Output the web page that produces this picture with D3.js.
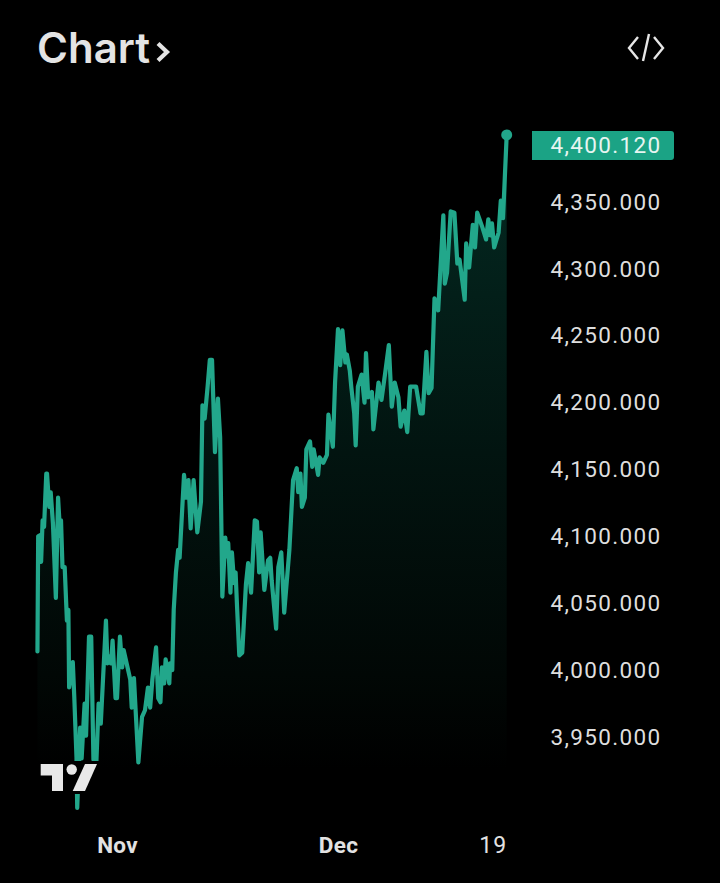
<!DOCTYPE html>
<html><head><meta charset="utf-8">
<style>html,body{margin:0;padding:0;background:#000}svg{display:block}</style>
<script src="https://cdn.jsdelivr.net/npm/d3@7/dist/d3.min.js"></script>
</head><body><div id="c"></div>
<script>
const title = "Chart";
const lastLabel = "4,400.120";
const yTicks = [3950,4000,4050,4100,4150,4200,4250,4300,4350];
const xTickDays = [0,30,51];
const xTickLabels = ["Nov","Dec","19"];
// sessions since 1 Nov
const days = [-10.8,-10.7,-10.4,-10.3,-10.1,-9.9,-9.6,-9.5,-9.2,-9.0,-8.7,-8.3,-8.0,-7.7,-7.6,-7.4,-7.1,-6.8,-6.6,-6.5,-6.2,-6.0,-5.8,-5.5,-5.4,-5.0,-4.8,-4.4,-4.2,-3.8,-3.5,-3.2,-2.8,-2.5,-2.2,-1.5,-1.3,-1.0,-0.8,-0.6,-0.2,0.0,0.4,0.7,0.9,1.8,2.0,2.3,2.9,3.4,3.8,4.2,4.5,4.8,5.3,5.6,5.9,6.1,6.4,6.6,7.1,7.2,7.5,7.7,8.0,8.3,8.5,9.1,9.4,9.7,10.0,10.4,10.9,11.4,11.6,11.9,12.3,12.6,12.9,13.3,13.7,14.0,14.3,14.7,14.9,15.1,15.4,15.6,15.9,16.1,16.3,16.6,17.0,17.5,17.8,18.2,18.7,19.0,19.3,19.5,20.0,20.5,20.8,21.0,21.6,21.9,22.3,22.7,23.4,23.9,24.4,24.6,24.9,25.1,25.5,25.7,26.2,26.5,26.7,27.3,27.5,28.0,28.5,28.7,29.3,29.6,30.0,30.3,30.6,31.0,31.2,31.6,31.8,32.2,32.4,32.7,33.2,33.6,33.8,34.1,34.6,34.8,35.5,35.9,36.4,36.9,37.3,37.7,38.2,38.5,39.0,39.4,39.8,40.6,41.2,41.5,42.0,42.3,42.7,43.1,43.6,44.3,44.5,44.8,45.3,45.8,46.2,46.5,47.2,47.4,47.8,48.3,48.6,48.9,49.6,50.1,50.4,50.7,50.9,51.2,51.8,52.1,52.4,52.9];
const prices = [4014,4100,4101,4081,4112,4107,4147,4147,4122,4133,4110,4054,4129,4100,4112,4077,4077,4037,4045,3987,3998,4006,3980,3935,3897,3957,3934,3975,3951,4025,4025,3933,3931,3975,3960,4037,4005,4010,4005,4022,3979,3979,4025,4002,4015,3993,3972,3994,3931,3965,3970,3987,3972,3993,4017,3979,3976,4002,3990,4008,3990,4005,4000,4045,4073,4090,4084,4146,4129,4142,4106,4142,4103,4126,4198,4188,4212,4232,4232,4163,4203,4174,4055,4099,4085,4095,4058,4088,4065,4073,4047,4011,4013,4064,4080,4058,4112,4111,4073,4103,4060,4082,4084,4067,4031,4077,4088,4043,4090,4142,4151,4133,4147,4122,4129,4165,4171,4152,4165,4146,4159,4155,4161,4191,4167,4215,4255,4228,4254,4230,4236,4224,4212,4192,4168,4212,4221,4200,4237,4204,4208,4180,4215,4202,4222,4243,4197,4215,4204,4182,4194,4178,4212,4212,4192,4192,4238,4207,4211,4278,4269,4340,4289,4297,4343,4342,4304,4307,4277,4319,4301,4333,4316,4342,4331,4322,4337,4325,4334,4316,4327,4351,4338,4400.12];

const W = 720, H = 883;
const svg = d3.select("#c").append("svg").attr("width",W).attr("height",H);
svg.append("rect").attr("width",W).attr("height",H).attr("fill","#000");

const x = d3.scaleLinear().domain([0,30]).range([117,338]);
const y = d3.scaleLinear().domain([3950,4350]).range([737,202]);
const pts = days.map((d,i)=>({d,v:prices[i]}));

const defs = svg.append("defs");
const g = defs.append("linearGradient").attr("id","fade")
  .attr("gradientUnits","userSpaceOnUse").attr("x1",0).attr("x2",0).attr("y1",136).attr("y2",770);
g.append("stop").attr("offset",0).attr("stop-color","#042a22");
g.append("stop").attr("offset",0.5).attr("stop-color","#021410");
g.append("stop").attr("offset",0.85).attr("stop-color","#010705");
g.append("stop").attr("offset",1).attr("stop-color","#000");

const area = d3.area().x(p=>x(p.d)).y0(790).y1(p=>y(p.v));
const line = d3.line().x(p=>x(p.d)).y(p=>y(p.v));
svg.append("path").datum(pts).attr("d",area).attr("fill","url(#fade)");
svg.append("path").datum(pts).attr("d",line).attr("fill","none").attr("stroke","#22a78b").attr("stroke-width",4.2).attr("stroke-linejoin","round").attr("stroke-linecap","round");
const last = pts[pts.length-1];
svg.append("circle").attr("cx",x(last.d)).attr("cy",y(last.v)).attr("r",5.5).attr("fill","#22a78b");

// y axis
const font = "Roboto, 'Open Sans', sans-serif";
const ya = svg.append("g").attr("transform","translate(550.5,0)")
  .call(d3.axisRight(y).tickValues(yTicks).tickFormat(d3.format(",.3f")).tickSize(0).tickPadding(0));
ya.select(".domain").remove();
ya.selectAll("text").attr("fill","#dedede").attr("font-family",font).attr("font-size",22.5).attr("font-weight",400).attr("letter-spacing",1.35).attr("dy","0.32em");

// last price tag
svg.append("path").attr("d","M532,131H671a3,3 0 0 1 3,3V157a3,3 0 0 1 -3,3H532Z").attr("fill","#1ba385");
svg.append("text").attr("x",550.5).attr("y",152.5).attr("fill","#e6f5f1").attr("font-family",font).attr("font-size",22.5).attr("font-weight",400).attr("letter-spacing",1.35).text(lastLabel);

// logo (masks the chart behind)
svg.append("rect").attr("x",38).attr("y",761).attr("width",62).attr("height",33).attr("fill","#000");
const logo = svg.append("g").attr("fill","#e8e8e8");
logo.append("path").attr("d","M40.7,764H63V791H52V775.5H40.7Z");
logo.append("circle").attr("cx",71.7).attr("cy",769.5).attr("r",5.2);
logo.append("path").attr("d","M85,764H97L85,791H72.7Z");

// x axis
const xa = svg.append("g").attr("transform","translate(0,845)")
  .call(d3.axisBottom(x).tickValues(xTickDays).tickFormat((d,i)=>xTickLabels[i]).tickSize(0).tickPadding(0));
xa.select(".domain").remove();
xa.selectAll("text").attr("fill","#e2e2e2").attr("font-family",font).attr("font-size",(d,i)=>i<2?22.5:23)
  .attr("dy","0.36em").attr("y",0)
  .attr("font-weight",(d,i)=>i<2?700:400).attr("letter-spacing",(d,i)=>i<2?0.3:1);

// header
svg.append("text").attr("x",37).attr("y",63).attr("fill","#e4e4e4").attr("font-family","Inter, Roboto, sans-serif").attr("font-size",42).attr("font-weight",600).text(title);
svg.append("path").attr("d","M158,43.5L167,52L158,60.5").attr("fill","none").attr("stroke","#e4e4e4").attr("stroke-width",4.2);
const ic = svg.append("g").attr("fill","none").attr("stroke","#e6e6e6").attr("stroke-width",2.4);
ic.append("path").attr("d","M638,37L629,48L638,59");
ic.append("path").attr("d","M649,34L643,61");
ic.append("path").attr("d","M654,37L663,48L654,59");
</script></body></html>
